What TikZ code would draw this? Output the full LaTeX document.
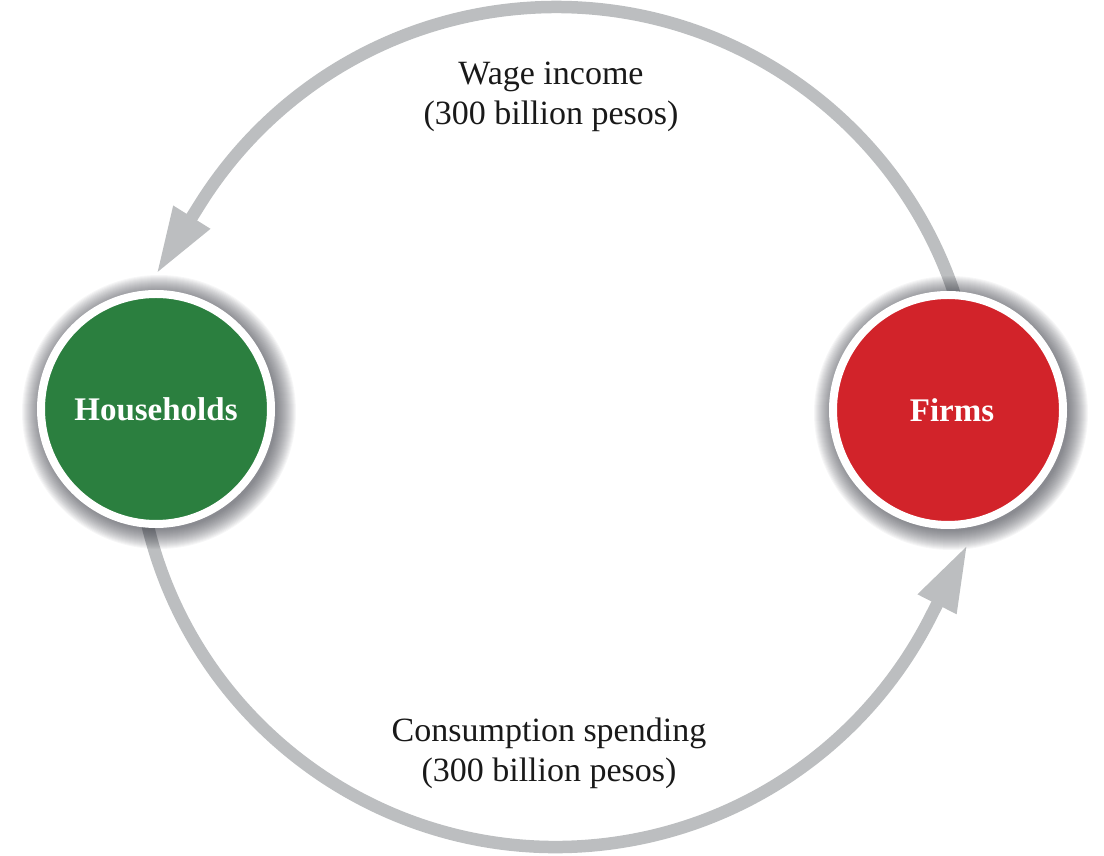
\documentclass[tikz,border=0pt]{standalone}
\usepackage{fontspec}
\setmainfont{Liberation Serif}
\usetikzlibrary{arrows.meta,calc}
\definecolor{flowgray}{RGB}{188,190,192}
\definecolor{hhgreen}{RGB}{43,127,63}
\definecolor{firmred}{RGB}{210,35,42}
\definecolor{shadowcol}{RGB}{55,57,66}
\begin{document}
\begin{tikzpicture}[x=1pt,y=1pt,
  flow/.style={draw=flowgray, line width=12.5pt, -{Triangle[length=67pt,width=40pt]}},
  agent/.style={circle, draw=white, line width=8pt, minimum size=230pt, inner sep=0pt,
    text=white, font=\fontsize{33}{40}\selectfont\bfseries},
  flowtext/.style={align=center, inner sep=0pt, text=black!90, font=\fontsize{34}{40}\selectfont}
]
\useasboundingbox (0,0) rectangle (1104,856);
\coordinate (c) at (556,429);
\coordinate (hhc) at (156,447);
\coordinate (fmc) at (948,446);
% flows
\draw[flow] ($(c)+(5:420)$) arc[start angle=5,end angle=148,radius=420] -- ++(238:82) coordinate (wtip);
\draw[flow] ($(c)+(190:420)$) arc[start angle=190,end angle=333,radius=420] -- ++(63:82) coordinate (ctip);
% shadows
\foreach \i in {1,...,20}{
  \fill[shadowcol, opacity=0.045] ($(hhc)+(3,-3)$) circle[radius=117+\i];
  \fill[shadowcol, opacity=0.045] ($(fmc)+(3,-3)$) circle[radius=117+\i];
}
% agents
\node[agent, fill=hhgreen] (hh) at (hhc) {Households};
\node[agent, fill=firmred] (fm) at (fmc) {\hspace*{8pt}Firms};
% labels
\node[flowtext] (wage) at (551,759) {Wage income\\(300 billion pesos)};
\node[flowtext] (cons) at (549,103) {Consumption spending\\(300 billion pesos)};
\end{tikzpicture}
\end{document}
